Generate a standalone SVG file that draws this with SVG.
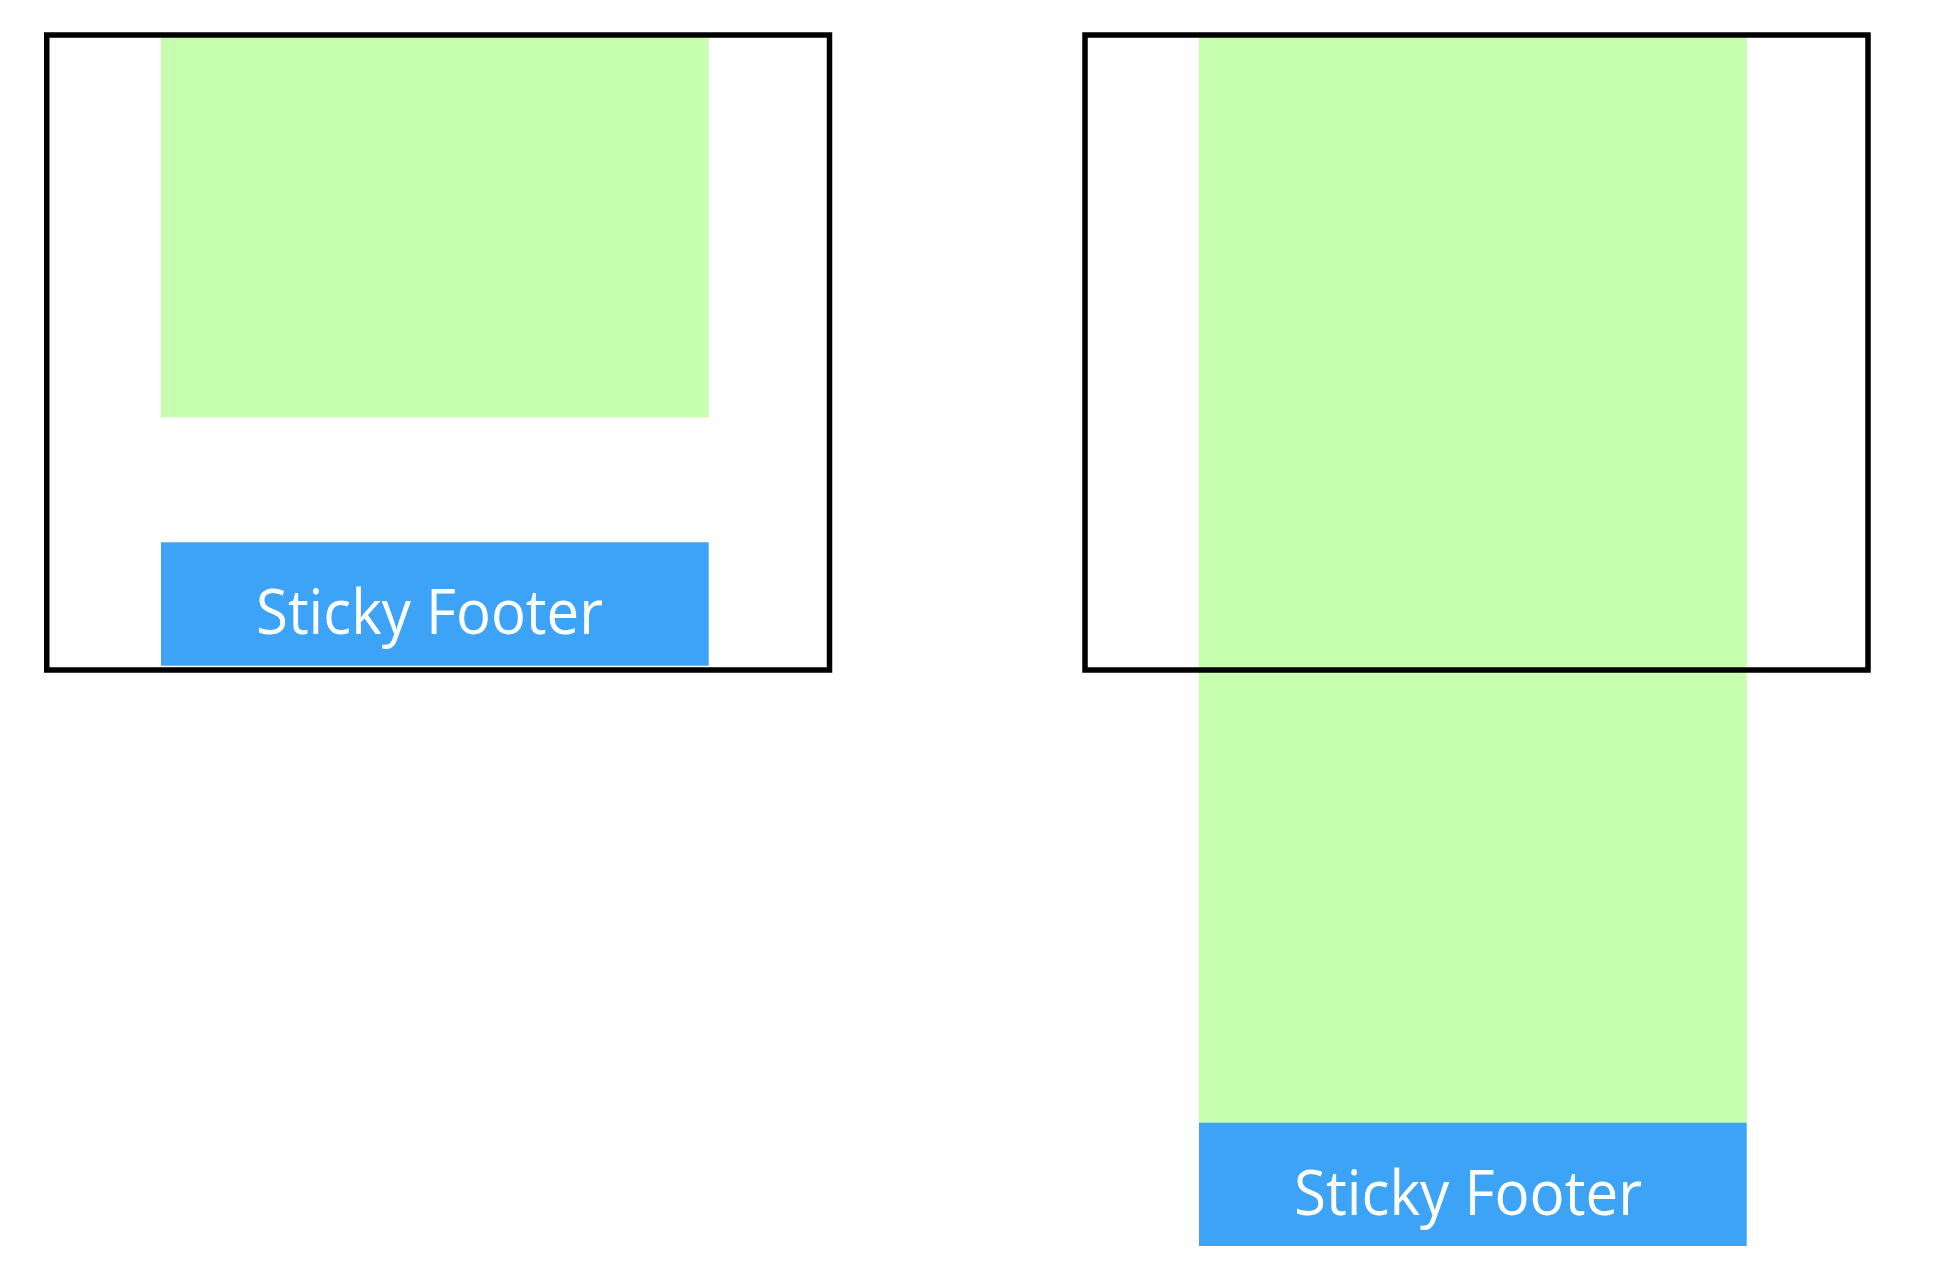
<svg xmlns="http://www.w3.org/2000/svg" width="1948" height="1288" viewBox="0 0 1948 1288">
<style>
.content{fill:#C5FFAE}
.footer{fill:#3CA3F6}
.viewport{fill:none;stroke:#000;stroke-width:5.5}
.label{fill:#fff;font-family:"Open Sans","Noto Sans",sans-serif;font-size:63px}
</style>
<rect width="1948" height="1288" fill="#fff"/>
<g id="left">
<rect class="content" x="161" y="35" width="547.7" height="382.3"/>
<g id="left-footer">
<rect class="footer" x="161" y="542.3" width="547.7" height="123.4"/>
<text class="label" x="256" y="634" textLength="347" lengthAdjust="spacingAndGlyphs">Sticky Footer</text>
</g>
<rect id="left-viewport" class="viewport" x="46.75" y="35" width="782.75" height="635"/>
</g>
<g id="right">
<rect class="content" x="1199" y="35" width="547.7" height="1087.7"/>
<g id="right-footer">
<rect class="footer" x="1199" y="1122.7" width="547.7" height="123.3"/>
<text class="label" x="1294" y="1215" textLength="348" lengthAdjust="spacingAndGlyphs">Sticky Footer</text>
</g>
<rect id="right-viewport" class="viewport" x="1085" y="35" width="783" height="635"/>
</g>
<g id="connectors"/>
</svg>
